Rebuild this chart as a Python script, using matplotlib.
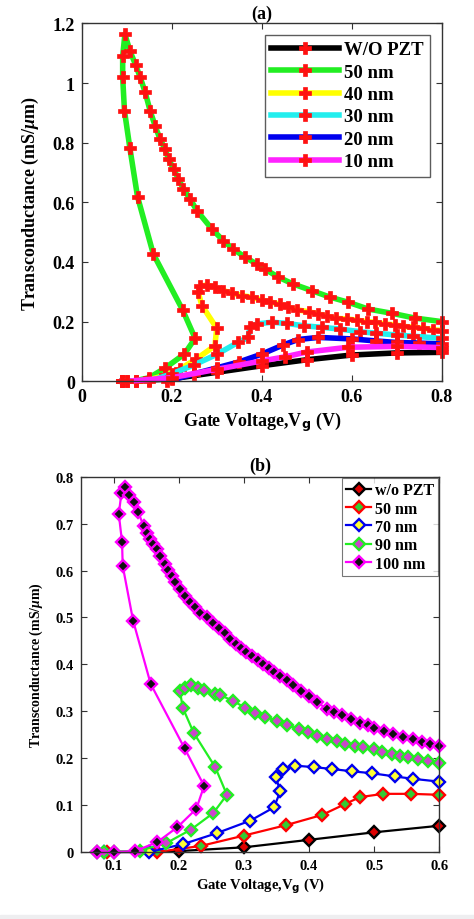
import matplotlib
matplotlib.use("Agg")
import matplotlib.pyplot as plt
from matplotlib.patches import Rectangle

plt.rcParams['font.family'] = ['Liberation Serif', 'DejaVu Serif']
plt.rcParams['font.weight'] = 'bold'
plt.rcParams['mathtext.fontset'] = 'custom'
plt.rcParams['mathtext.rm'] = 'Liberation Serif:bold'
plt.rcParams['mathtext.it'] = 'Liberation Serif:italic:bold'

# ---------------- Panel (a) data ----------------
a_labels = ['W/O PZT', '50 nm', '40 nm', '30 nm', '20 nm', '10 nm']
a_colors = ['#000000', '#22ee22', '#ffff00', '#22eeee', '#0000ee', '#ff22ff']

a_v_wo = [0.09, 0.1, 0.2, 0.3, 0.4, 0.5, 0.6, 0.7, 0.8]
a_g_wo = [0, 0, 0.008, 0.03, 0.052, 0.072, 0.088, 0.095, 0.097]

a_v_50 = [0.09, 0.12, 0.15, 0.185, 0.228, 0.252, 0.224, 0.159, 0.124, 0.107, 0.095, 0.091,
          0.091, 0.096, 0.107, 0.12, 0.13, 0.141, 0.152, 0.163, 0.174, 0.185, 0.193, 0.204,
          0.215, 0.226, 0.241, 0.256, 0.289, 0.315, 0.337, 0.363, 0.389, 0.407, 0.437, 0.47,
          0.511, 0.552, 0.592, 0.637, 0.689, 0.74, 0.8]
a_g_50 = [0, 0.002, 0.012, 0.044, 0.091, 0.144, 0.24, 0.427, 0.619, 0.782, 0.907, 1.019,
          1.09, 1.164, 1.108, 1.06, 1.019, 0.969, 0.907, 0.857, 0.812, 0.779, 0.745, 0.712,
          0.678, 0.645, 0.611, 0.572, 0.511, 0.471, 0.443, 0.416, 0.393, 0.376, 0.349, 0.326,
          0.304, 0.282, 0.265, 0.242, 0.228, 0.212, 0.2]

a_v_40 = [0.12, 0.15, 0.185, 0.218, 0.255, 0.296, 0.3, 0.267, 0.259, 0.263, 0.278, 0.296,
          0.315, 0.333, 0.356, 0.378, 0.4, 0.418, 0.44, 0.459, 0.478, 0.504, 0.526, 0.544,
          0.566, 0.589, 0.611, 0.633, 0.652, 0.674, 0.696, 0.715, 0.737, 0.759, 0.781, 0.8]
a_g_40 = [0, 0.005, 0.02, 0.041, 0.075, 0.119, 0.178, 0.254, 0.298, 0.318, 0.323, 0.315,
          0.304, 0.296, 0.287, 0.282, 0.272, 0.266, 0.259, 0.248, 0.24, 0.233, 0.226, 0.218,
          0.211, 0.209, 0.205, 0.2, 0.198, 0.192, 0.189, 0.184, 0.181, 0.178, 0.173, 0.17]

a_v_30 = [0.15, 0.2, 0.25, 0.3, 0.348, 0.37, 0.374, 0.389, 0.422, 0.456, 0.493, 0.533,
          0.574, 0.619, 0.655, 0.7, 0.737, 0.8]
a_g_30 = [0, 0.025, 0.055, 0.09, 0.131, 0.147, 0.181, 0.192, 0.198, 0.194, 0.186, 0.181,
          0.175, 0.166, 0.161, 0.155, 0.151, 0.144]

a_v_20 = [0.19, 0.25, 0.3, 0.35, 0.4, 0.448, 0.481, 0.526, 0.6, 0.655, 0.7, 0.75, 0.8]
a_g_20 = [0, 0.025, 0.045, 0.065, 0.091, 0.122, 0.14, 0.147, 0.142, 0.135, 0.13, 0.128, 0.125]

a_v_10 = [0.09, 0.1, 0.2, 0.3, 0.4, 0.452, 0.5, 0.592, 0.7, 0.8]
a_g_10 = [0, 0, 0.012, 0.04, 0.068, 0.082, 0.098, 0.114, 0.117, 0.113]

# ---------------- Panel (b) data ----------------
b_labels = ['w/o PZT', '50 nm', '70 nm', '90 nm', '100 nm']
b_line_colors = ['#000000', '#ff0000', '#0000ee', '#22ee22', '#ff00ff']
b_face_colors = ['#dd0000', '#33cc33', '#ffff33', '#cc44cc', '#111111']

b_v_wo = [0.075, 0.1, 0.2, 0.3, 0.4, 0.5, 0.6]
b_g_wo = [0, 0, 0.002, 0.01, 0.026, 0.042, 0.056]

b_v_50 = [0.09, 0.167, 0.234, 0.3, 0.364, 0.42, 0.455, 0.478, 0.514, 0.556, 0.6]
b_g_50 = [0, 0, 0.013, 0.035, 0.057, 0.079, 0.102, 0.117, 0.124, 0.124, 0.122]

b_v_70 = [0.085, 0.154, 0.207, 0.258, 0.31, 0.346, 0.356, 0.349, 0.36, 0.379, 0.407, 0.435,
          0.466, 0.496, 0.532, 0.56, 0.6]
b_g_70 = [0, 0, 0.017, 0.04, 0.067, 0.095, 0.129, 0.16, 0.177, 0.184, 0.181, 0.177,
          0.172, 0.168, 0.161, 0.156, 0.15]

b_v_90 = [0.085, 0.14, 0.181, 0.219, 0.253, 0.274, 0.256, 0.223, 0.206, 0.202, 0.21, 0.219,
          0.229, 0.239, 0.255, 0.264, 0.284, 0.302, 0.317, 0.333, 0.351, 0.366, 0.384, 0.399,
          0.412, 0.427, 0.443, 0.456, 0.471, 0.483, 0.499, 0.512, 0.527, 0.54, 0.552, 0.568,
          0.583, 0.6]
b_g_90 = [0, 0.003, 0.019, 0.048, 0.083, 0.122, 0.181, 0.254, 0.308, 0.343, 0.349, 0.355,
          0.35, 0.346, 0.336, 0.334, 0.322, 0.307, 0.296, 0.287, 0.28, 0.27, 0.263, 0.255,
          0.248, 0.241, 0.237, 0.23, 0.227, 0.223, 0.22, 0.213, 0.209, 0.205, 0.202, 0.198,
          0.195, 0.189]

b_v_100 = [0.075, 0.1, 0.133, 0.167, 0.198, 0.227, 0.239, 0.209, 0.157, 0.13, 0.114, 0.113,
           0.108, 0.112, 0.118, 0.124, 0.131, 0.138, 0.146, 0.151, 0.156, 0.161, 0.166, 0.172,
           0.179, 0.184, 0.189, 0.195, 0.202, 0.209, 0.217, 0.225, 0.233, 0.243, 0.253, 0.262,
           0.271, 0.279, 0.288, 0.296, 0.304, 0.313, 0.321, 0.33, 0.339, 0.347, 0.356, 0.366,
           0.376, 0.388, 0.4, 0.413, 0.427, 0.438, 0.45, 0.465, 0.479, 0.49, 0.5, 0.515,
           0.529, 0.545, 0.56, 0.573, 0.586, 0.6]
b_g_100 = [0, 0, 0.002, 0.021, 0.053, 0.092, 0.141, 0.221, 0.358, 0.493, 0.61, 0.661,
           0.72, 0.765, 0.778, 0.76, 0.747, 0.724, 0.695, 0.68, 0.667, 0.656, 0.645, 0.63,
           0.614, 0.601, 0.589, 0.575, 0.561, 0.546, 0.532, 0.522, 0.51, 0.5, 0.489, 0.477,
           0.466, 0.454, 0.444, 0.435, 0.426, 0.417, 0.409, 0.401, 0.392, 0.384, 0.376, 0.366,
           0.355, 0.344, 0.333, 0.319, 0.305, 0.299, 0.292, 0.284, 0.276, 0.27, 0.265, 0.258,
           0.252, 0.246, 0.24, 0.235, 0.231, 0.227]

a_xticks = [0, 0.2, 0.4, 0.6, 0.8]
a_yticks = [0, 0.2, 0.4, 0.6, 0.8, 1, 1.2]
a_yticklabels = ['0', '0.2', '0.4', '0.6', '0.8', '1', '1.2']
b_xticks = [0.1, 0.2, 0.3, 0.4, 0.5, 0.6]
b_yticks = [0, 0.1, 0.2, 0.3, 0.4, 0.5, 0.6, 0.7, 0.8]
b_yticklabels = ['0', '0.1', '0.2', '0.3', '0.4', '0.5', '0.6', '0.7', '0.8']

fig = plt.figure(figsize=(4.74, 9.2), dpi=100)
fig.patches.append(Rectangle((0, 0), 1, 0.0045, transform=fig.transFigure,
                             color='#eeeef0', zorder=0))

def style_axes(ax, fs):
    for s in ax.spines.values():
        s.set_color('#333333')
        s.set_linewidth(1.0)
    ax.tick_params(direction='in', top=True, right=True, length=4, width=0.8,
                   labelsize=fs, colors='#333333', labelcolor='black', pad=5)
    for lab in ax.get_xticklabels() + ax.get_yticklabels():
        lab.set_fontweight('bold')

# ---------------- Panel (a) ----------------
ax1 = fig.add_axes([0.1724, 0.5845, 0.7595, 0.389])
a_series = [(a_v_wo, a_g_wo), (a_v_50, a_g_50), (a_v_40, a_g_40),
            (a_v_30, a_g_30), (a_v_20, a_g_20), (a_v_10, a_g_10)]
for (v, g), c, lab in zip(a_series, a_colors, a_labels):
    ax1.plot(v, g, color=c, lw=4, marker='P', ms=8, mfc='#ff1111', mec='#ff1111',
             mew=0.5, label=lab, clip_on=False)
ax1.set_xlim(0, 0.8)
ax1.set_ylim(0, 1.2)
ax1.set_xticks(a_xticks)
ax1.set_xticklabels(['0', '0.2', '0.4', '0.6', '0.8'])
ax1.set_yticks(a_yticks)
ax1.set_yticklabels(a_yticklabels)
style_axes(ax1, 13)
ax1.set_title('(a)', fontsize=13, fontweight='bold', pad=4)
ax1.set_xlabel('Gate Voltage,V$_{\\mathbf{g}}$ (V)', fontsize=13, fontweight='bold', labelpad=3)
ax1.set_ylabel('Transconductance (mS/$\\mu$m)', fontsize=13, fontweight='bold', labelpad=8)
leg1 = ax1.legend(loc='upper right', fontsize=13.5, frameon=True, fancybox=False,
                  edgecolor='#333333', handlelength=3.6, handletextpad=0.3,
                  labelspacing=0.28, borderpad=0.35, borderaxespad=0.6,
                  prop={'weight': 'bold', 'size': 13.5})
leg1.get_frame().set_linewidth(1.0)

# ---------------- Panel (b) ----------------
ax2 = fig.add_axes([0.1709, 0.0728, 0.7559, 0.408])
b_series = [(b_v_wo, b_g_wo), (b_v_50, b_g_50), (b_v_70, b_g_70),
            (b_v_90, b_g_90), (b_v_100, b_g_100)]
for (v, g), lc, fc, lab in zip(b_series, b_line_colors, b_face_colors, b_labels):
    ax2.plot(v, g, color=lc, lw=1.6, marker='D', ms=6, mfc=fc, mec=lc,
             mew=1.7, label=lab, clip_on=False)
ax2.set_xlim(0.05, 0.6)
ax2.set_ylim(0, 0.8)
ax2.set_xticks(b_xticks)
ax2.set_xticklabels(['0.1', '0.2', '0.3', '0.4', '0.5', '0.6'])
ax2.set_yticks(b_yticks)
ax2.set_yticklabels(b_yticklabels)
style_axes(ax2, 10.5)
ax2.set_title('(b)', fontsize=13, fontweight='bold', pad=5)
ax2.set_xlabel('Gate Voltage,V$_{\\mathbf{g}}$ (V)', fontsize=10.5, fontweight='bold', labelpad=3)
ax2.set_ylabel('Transconductance (mS/$\\mu$m)', fontsize=10, fontweight='bold', labelpad=8)
leg2 = ax2.legend(loc='upper right', fontsize=11.5, frameon=True, fancybox=False,
                  edgecolor='#555555', handlelength=1.6, handletextpad=0.2,
                  labelspacing=0.15, borderpad=0.25, borderaxespad=0.1,
                  prop={'weight': 'bold', 'size': 11.5})
leg2.get_frame().set_linewidth(0.8)

fig.savefig('out.png', dpi=100)
